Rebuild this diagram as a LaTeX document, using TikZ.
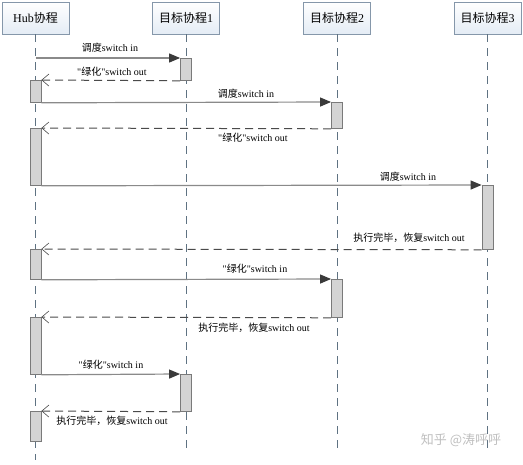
\documentclass[tikz,border=0pt]{standalone}
\usepackage{fontspec}
\setmainfont{Liberation Serif}[Ligatures=TeXOff]
\newfontfamily\zhfont{Noto Sans CJK SC}
\newcommand{\zh}[1]{{\zhfont #1}}
\usetikzlibrary{arrows.meta}
\definecolor{lifec}{HTML}{5F7282}
\definecolor{headborder}{HTML}{8597AA}
\definecolor{headfill}{HTML}{E4ECF5}
\definecolor{actfill}{HTML}{D4D4D4}
\definecolor{actborder}{HTML}{7A7A7A}
\definecolor{msgc}{HTML}{8A8A8A}
\definecolor{tipc}{HTML}{3A3A3A}
\definecolor{retc}{HTML}{4A4A4A}
\tikzset{
  head/.style={draw=headborder, top color=white, bottom color=headfill, minimum width=67pt, minimum height=32pt, inner sep=0pt, font=\fontsize{12}{14}\selectfont},
  life/.style={draw=lifec, line width=0.9pt, dash pattern=on 8pt off 6pt},
  act/.style={draw=actborder, fill=actfill, minimum width=11pt, inner sep=0pt, anchor=north, line width=0.8pt},
  msg/.style={draw=msgc, line width=1.2pt, -{Triangle[length=11pt,width=9pt,color=tipc]}},
  ret/.style={draw=retc, line width=1pt, dash pattern=on 8pt off 5pt, -{Straight Barb[length=7pt,width=12pt,line width=0.6pt]}},
  lbl/.style={font=\fontsize{10}{12}\selectfont, inner sep=0pt},
  wm/.style={font=\fontsize{13}{15}\selectfont, text=gray!50, inner sep=0pt}
}
\begin{document}
\begin{tikzpicture}[x=1pt,y=-1pt]
\useasboundingbox (0,0) rectangle (523,464);
% headers
\node[head] (hub) at (35.5,18) {Hub\zh{协程}};
\node[head] (t1) at (186,18) {\zh{目标协程}1};
\node[head] (t2) at (337,18) {\zh{目标协程}2};
\node[head] (t3) at (487.5,18) {\zh{目标协程}3};
% lifeline ends
\coordinate (hubend) at (35.5,460);
\coordinate (t1end) at (186,453);
\coordinate (t2end) at (337,453);
\coordinate (t3end) at (487.5,453);
\draw[life] (hub.south) -- (hubend);
\draw[life] (t1.south) -- (t1end);
\draw[life] (t2.south) -- (t2end);
\draw[life] (t3.south) -- (t3end);
% activations
\node[act, minimum height=22pt] (a1) at (186,58) {};
\node[act, minimum height=22pt] (h1) at (35.5,80) {};
\node[act, minimum height=26pt] (b1) at (337,102) {};
\node[act, minimum height=57pt] (h2) at (35.5,128) {};
\node[act, minimum height=64pt] (c1) at (487.5,185) {};
\node[act, minimum height=30pt] (h3) at (35.5,249) {};
\node[act, minimum height=38pt] (b2) at (337,279) {};
\node[act, minimum height=57pt] (h4) at (35.5,317) {};
\node[act, minimum height=37pt] (a2) at (186,374) {};
\node[act, minimum height=30pt] (h5) at (35.5,411) {};
% messages
\draw[msg] (hub.south |- a1.north west) -- (a1.north west);
\draw[ret] (a1.south west) -- (h1.north east);
\draw[msg] (h1.south east) -- (b1.north west);
\draw[ret] (b1.south west) -- (h2.north east);
\draw[msg] (h2.south east) -- (c1.north west);
\draw[ret] (c1.south west) -- (h3.north east);
\draw[msg] (h3.south east) -- (b2.north west);
\draw[ret] (b2.south west) -- (h4.north east);
\draw[msg] (h4.south east) -- (a2.north west);
\draw[ret] (a2.south west) -- (h5.north east);
% labels
\node[lbl] (l1) at (110,48) {\zh{调度}switch in};
\node[lbl] (l2) at (112,72) {"\zh{绿化}"switch out};
\node[lbl] (l3) at (246,94) {\zh{调度}switch in};
\node[lbl] (l4) at (253,138) {"\zh{绿化}"switch out};
\node[lbl] (l5) at (408,177) {\zh{调度}switch in};
\node[lbl] (l6) at (409,238) {\zh{执行完毕，恢复}switch out};
\node[lbl] (l7) at (255,269) {"\zh{绿化}"switch in};
\node[lbl] (l8) at (254,328) {\zh{执行完毕，恢复}switch out};
\node[lbl] (l9) at (111,365) {"\zh{绿化}"switch in};
\node[lbl] (l10) at (112,421) {\zh{执行完毕，恢复}switch out};
% watermark
\node[wm] (wm) at (461,440) {\zh{知乎 @涛呼呼}};
\end{tikzpicture}
\end{document}
